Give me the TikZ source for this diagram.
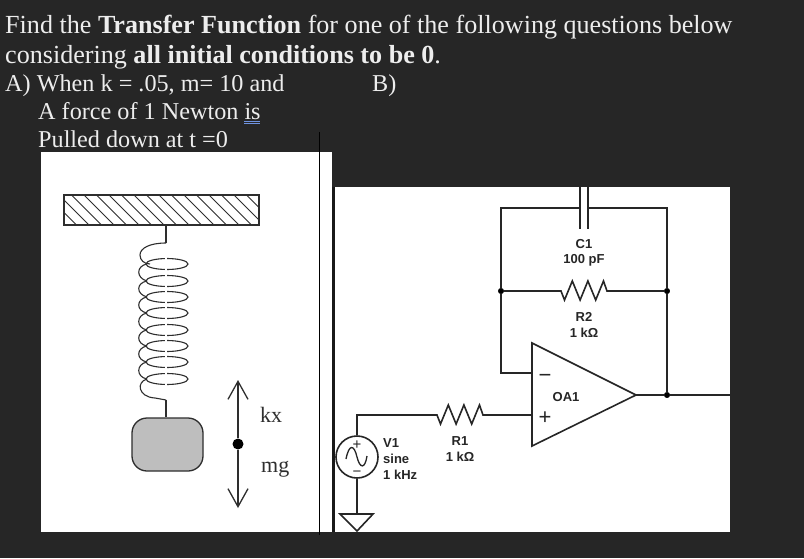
\documentclass[tikz,border=0pt]{standalone}
\usepackage{fontspec}
\setmainfont{Liberation Serif}
\setsansfont{Liberation Sans}
\usepackage{xcolor}
\usepackage{tikz}
\usetikzlibrary{arrows.meta}
\definecolor{slidebg}{HTML}{262626}
\definecolor{slidetext}{HTML}{EDEDED}
\definecolor{massgray}{HTML}{BEBEBE}
\definecolor{inkgray}{HTML}{2E2E2E}
\definecolor{proofblue}{HTML}{6F93E0}
\newcommand{\respath}{-- ++(3.5,9) -- ++(7.8,-19) -- ++(7.8,19) -- ++(7.8,-19) -- ++(7.8,19) -- ++(7.8,-19) -- ++(3.5,10)}
\tikzset{
  slideline/.style={anchor=base west, inner sep=0pt, text=slidetext, font=\fontsize{26.1}{26}\selectfont},
  subline/.style={slideline, font=\fontsize{24.2}{24}\selectfont},
  cirlabel/.style={inner sep=0pt, yshift=-1pt, font=\sffamily\bfseries\fontsize{13}{13}\selectfont, text=black!85},
  handlabel/.style={anchor=base west, inner sep=0pt, text=inkgray, font=\fontsize{22}{22}\selectfont},
  signlabel/.style={inner sep=0pt, text=black!85, font=\sffamily\fontsize{22}{22}\selectfont},
  smallsign/.style={signlabel, font=\sffamily\fontsize{15}{15}\selectfont},
  wire/.style={line width=1.6pt, black!85},
  coil/.style={line width=1.1pt, inkgray},
  junction/.style={draw=black, fill=black, circle, minimum size=5.5pt, inner sep=0pt},
}
\begin{document}
\begin{tikzpicture}[x=1pt, y=-1pt, >={Straight Barb[length=18pt, width=20pt]}]
    \fill[slidebg] (0,0) rectangle (804,558);
    \useasboundingbox (0,0) rectangle (804,558);
    \fill[white] (41,152) rectangle (332,532);
    \fill[white] (335,187) rectangle (730,532);
    \fill[black!90] (332,187) rectangle (335,532);
    \draw[black, line width=1pt] (319,132) -- (319,535);
    % heading
    \node (line1) [slideline] at (5,33) {Find the \textbf{Transfer Function} for one of the following questions below};
    \node (line2) [slideline] at (5,63) {considering \textbf{all initial conditions to be 0}.};
    \node (line3) [subline] at (5,91) {A) When k = .05, m= 10 and};
    \node (partb) [subline] at (372,91) {B)};
    \node (line4) [subline] at (38,119) {A force of 1 Newton is};
    \node (line5) [subline] at (38,147) {Pulled down at t =0};
    \draw[proofblue, line width=0.8pt] (244,121.5) -- (260,121.5);
    \draw[proofblue, line width=0.8pt] (244,123.5) -- (260,123.5);
    % wall
    \begin{scope}
      \clip (64,195) rectangle (259,225);
      \foreach \hx in {34,46.5,...,260}
        \draw[inkgray, line width=0.9pt] (\hx,195) -- ({\hx+30},225);
    \end{scope}
    \node (wall) [draw=inkgray, line width=1.5pt, minimum width=195pt, minimum height=30pt, inner sep=0pt] at (161.5,210) {};
    % spring
    \coordinate (springtop) at (166,243);
    \coordinate (springend) at (166,400);
    \draw[coil] (wall.south -| springtop) -- (springtop);
    \draw[coil] (springtop) .. controls (150,243) and (140,248) .. (140,255) .. controls (140,260) and (144,264) .. (150,264);
    \draw[coil] (147,264) .. controls (136,266) and (136,278) .. (147,281);
    \draw[coil] (147,281) .. controls (136,283) and (136,294) .. (147,297);
    \draw[coil] (147,297) .. controls (136,299) and (136,311) .. (147,313);
    \draw[coil] (147,313) .. controls (136,315) and (136,328) .. (147,330);
    \draw[coil] (147,330) .. controls (136,332) and (136,344) .. (147,346);
    \draw[coil] (147,346) .. controls (136,348) and (136,360) .. (147,362);
    \draw[coil] (147,362) .. controls (136,364) and (136,377) .. (147,379);
    \draw[coil] (147,379) .. controls (136,382) and (138,397) .. (155,398) -- (springend);
    \draw[coil] (167,264) ellipse [x radius=21, y radius=5.5];
    \draw[coil] (167,281) ellipse [x radius=21, y radius=5.5];
    \draw[coil] (167,297) ellipse [x radius=21, y radius=5.5];
    \draw[coil] (167,313) ellipse [x radius=21, y radius=5.5];
    \draw[coil] (167,330) ellipse [x radius=21, y radius=5.5];
    \draw[coil] (167,346) ellipse [x radius=21, y radius=5.5];
    \draw[coil] (167,362) ellipse [x radius=21, y radius=5.5];
    \draw[coil] (167,379) ellipse [x radius=21, y radius=5.5];
    \draw[white, line width=1.6pt] (166,256) -- (166,388);
    % mass and forces
    \node (mass) [draw=inkgray, line width=1.3pt, fill=massgray, rounded corners=15pt, minimum width=71pt, minimum height=53pt, inner sep=0pt] at (167.5,444.5) {};
    \draw[coil, line width=1.3pt] (springend) -- (springend |- mass.north);
    \node (fdot) [fill=black, circle, minimum size=11pt, inner sep=0pt] at (238,444) {};
    \coordinate (kxtip) at (238,380);
    \coordinate (mgtip) at (238,508);
    \draw[->, inkgray, line width=1.3pt] (fdot) -- (kxtip);
    \draw[->, inkgray, line width=1.3pt] (fdot) -- (mgtip);
    \node (kx) [handlabel] at (260,422) {kx};
    \node (mg) [handlabel] at (261,472) {mg};
    % op amp
    \coordinate (oatl) at (532,343);
    \coordinate (oabl) at (532,446);
    \coordinate (oaout) at (636,395);
    \draw[wire] (oatl) -- (oaout) -- (oabl) -- cycle;
    \node (oalabel) [cirlabel] at (566,396) {OA1};
    \node (oaminus) [signlabel] at (545,378) {−};
    \node (oaplus) [signlabel] at (545,418) {+};
    \coordinate (inminus) at (532,373);
    \coordinate (inplus) at (532,415);
    % feedback
    \node (leftdot) [junction] at (501,291) {};
    \node (rightdot) [junction] at (667,291) {};
    \node (outdot) [junction] at (667,395) {};
    \coordinate (outend) at (730,395);
    \coordinate (topleft) at (501,208);
    \coordinate (topright) at (667,208);
    \coordinate (capa) at (580,208);
    \coordinate (capb) at (588,208);
    \coordinate (r2in) at (561,291);
    \coordinate (r2out) at (607,291);
    \draw[wire] (inminus) -| (leftdot);
    \draw[wire] (leftdot) -- (topleft) -- (capa);
    \draw[wire] (capb) -- (topright) -- (rightdot);
    \draw[wire] (rightdot) -- (outdot);
    \draw[wire] (oaout) -- (outdot) -- (outend);
    \draw[wire] (580,187) -- (580,229);
    \draw[wire] (588,187) -- (588,229);
    \draw[wire] (leftdot) -- (r2in) \respath -- (rightdot);
    \node (c1name) [cirlabel] at (584,243) {C1};
    \node (c1val) [cirlabel] at (584,259) {100 pF};
    \node (r2name) [cirlabel] at (584,316) {R2};
    \node (r2val) [cirlabel] at (584,332) {1 kΩ};
    % input
    \node (source) [draw=black!85, line width=1.6pt, circle, minimum size=42pt, inner sep=0pt] at (357,457) {};
    \coordinate (corner) at (357,415);
    \coordinate (r1in) at (437,415);
    \coordinate (gnd) at (357,514);
    \draw[wire] (source.north) -- (corner) -- (r1in) \respath -- (inplus);
    \draw[wire] (source.south) -- (gnd);
    \draw[wire] (340,514) -- (373,514) -- (357,531) -- cycle;
    \draw[black!85, line width=1.3pt] (346,459) .. controls (349,444) and (354,444) .. (357,457) .. controls (360,469) and (365,469) .. (367,456);
    \node (srcplus) [smallsign] at (357,445) {+};
    \node (srcminus) [smallsign] at (357,474) {−};
    \node (v1name) [cirlabel, anchor=west] at (383,442) {V1};
    \node (v1kind) [cirlabel, anchor=west] at (383,458) {sine};
    \node (v1freq) [cirlabel, anchor=west] at (383,474) {1 kHz};
    \node (r1name) [cirlabel] at (460,440) {R1};
    \node (r1val) [cirlabel] at (460,456) {1 kΩ};
\end{tikzpicture}
\end{document}
